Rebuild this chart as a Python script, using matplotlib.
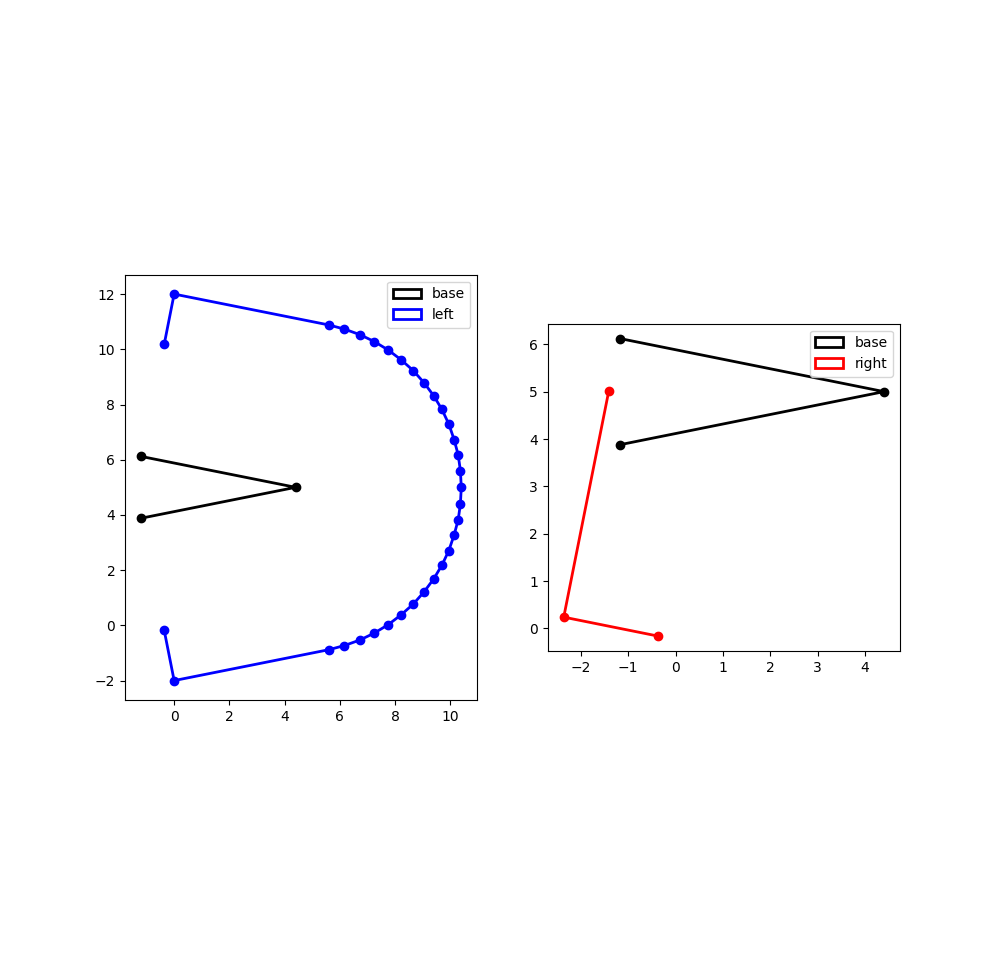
import matplotlib
matplotlib.use("Agg")
import matplotlib.pyplot as plt
from matplotlib.patches import Patch

base_x = [-1.2, 4.4, -1.2]
base_y = [6.12, 5.0, 3.88]

left_x = [-0.36, 0.0,
          5.61, 6.17, 6.73, 7.25, 7.76, 8.22, 8.66, 9.05, 9.40, 9.70, 9.95, 10.14, 10.29, 10.37, 10.40,
          10.37, 10.29, 10.14, 9.95, 9.70, 9.40, 9.05, 8.66, 8.22, 7.76, 7.25, 6.73, 6.17, 5.61,
          0.0, -0.36]
left_y = [10.18, 12.0,
          10.88, 10.73, 10.53, 10.28, 9.97, 9.62, 9.23, 8.79, 8.32, 7.82, 7.29, 6.73, 6.17, 5.59, 5.00,
          4.41, 3.83, 3.27, 2.71, 2.18, 1.68, 1.21, 0.77, 0.38, 0.03, -0.28, -0.53, -0.73, -0.88,
          -2.0, -0.18]

rbase_x = [-1.17, 4.4, -1.17]
rbase_y = [6.12, 5.0, 3.88]
right_x = [-1.41, -2.36, -0.37]
right_y = [5.01, 0.24, -0.16]

fig, (ax1, ax2) = plt.subplots(1, 2, figsize=(10, 9.65), dpi=100)

ax1.plot(base_x, base_y, color="black", lw=2, marker="o")
ax1.plot(left_x, left_y, color="blue", lw=2, marker="o")
ax1.set_aspect("equal")
ax1.legend(handles=[Patch(facecolor="none", edgecolor="black", lw=2, label="base"),
                    Patch(facecolor="none", edgecolor="blue", lw=2, label="left")],
           loc="upper right")

ax2.plot(rbase_x, rbase_y, color="black", lw=2, marker="o")
ax2.plot(right_x, right_y, color="red", lw=2, marker="o")
ax2.set_aspect("equal")
ax2.legend(handles=[Patch(facecolor="none", edgecolor="black", lw=2, label="base"),
                    Patch(facecolor="none", edgecolor="red", lw=2, label="right")],
           loc="upper right")

fig.savefig("out.png", dpi=100)
